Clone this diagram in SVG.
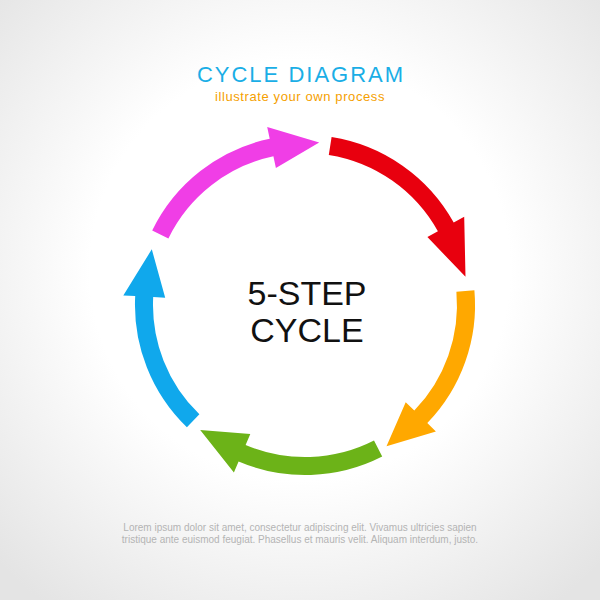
<svg xmlns="http://www.w3.org/2000/svg" width="600" height="600" viewBox="0 0 600 600">
<defs>
<radialGradient id="bg" cx="50%" cy="45%" r="70%">
<stop offset="0.5" stop-color="#ffffff"/><stop offset="1" stop-color="#e4e4e4"/>
</radialGradient>
<style>
text{font-family:"Liberation Sans",Arial,sans-serif;text-anchor:middle}
.t{font-size:22px;fill:#1aaee6;letter-spacing:2px}
.s{font-size:13px;fill:#f5a000;letter-spacing:0.6px}
.c{font-size:34px;fill:#111}
.l{font-size:10px;fill:#b4b4b4}
</style>
</defs>
<rect width="600" height="600" fill="url(#bg)"/>
<g id="title"><text class="t" x="301" y="82">CYCLE DIAGRAM</text><text class="s" x="300" y="101">illustrate your own process</text></g>
<g id="connectors">
<path id="red" fill="#e8000e" d="M331.6,137.1 A170,170 0 0 1 453.7,222.6 L464.2,216.8 L465.5,276.7 L427.4,237.1 L437.9,231.3 A152,152 0 0 0 328.8,154.9 Z"/>
<path id="orange" fill="#ffa800" d="M474.4,290.2 A170,170 0 0 1 427.3,423.1 L435.9,431.4 L386.5,446.2 L405.7,402.3 L414.3,410.6 A152,152 0 0 0 456.4,291.7 Z"/>
<path id="green" fill="#6cb318" d="M382.2,456.5 A170,170 0 0 1 238.6,461.5 L233.9,472.5 L200.2,429.9 L250.3,433.9 L245.6,444.9 A152,152 0 0 0 374.0,440.4 Z"/>
<path id="blue" fill="#10a8ec" d="M186.9,427.3 A170,170 0 0 1 135.2,296.1 L123.3,295.5 L151.8,249.3 L165.2,297.7 L153.2,297.0 A152,152 0 0 0 199.4,414.3 Z"/>
<path id="magenta" fill="#f03ee6" d="M152.2,230.5 A170,170 0 0 1 269.7,138.7 L267.2,127.0 L319.2,142.6 L275.9,168.1 L273.4,156.3 A152,152 0 0 0 168.4,238.4 Z"/>
</g>
<g id="center"><text class="c" x="307" y="305">5-STEP</text><text class="c" x="307" y="342">CYCLE</text></g>
<g id="lorem"><text class="l" x="300" y="531">Lorem ipsum dolor sit amet, consectetur adipiscing elit. Vivamus ultricies sapien</text><text class="l" x="300" y="543">tristique ante euismod feugiat. Phasellus et mauris velit. Aliquam interdum, justo.</text></g>
</svg>
